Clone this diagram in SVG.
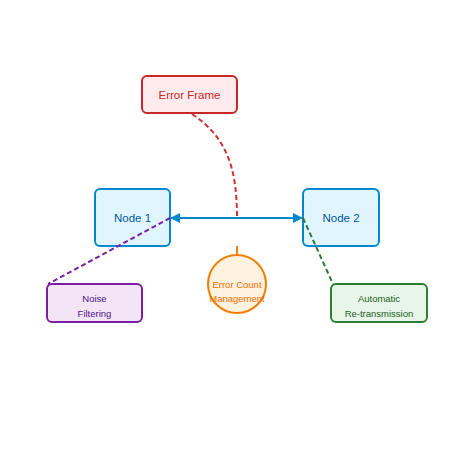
<svg xmlns="http://www.w3.org/2000/svg" width="474" height="474" viewBox="0 0 474 474">
<style>
text{font-family:"Liberation Sans",Arial,sans-serif;text-anchor:middle}
.box{stroke-width:2}
.dash{fill:none;stroke-width:2;stroke-dasharray:5,3}
.big{font-size:11.5px}
.sm{font-size:9.5px}
</style>
<defs>
<marker id="ah" viewBox="0 0 10 10" refX="9" refY="5" markerWidth="10" markerHeight="10" markerUnits="userSpaceOnUse" orient="auto-start-reverse">
<path d="M0,0L10,5L0,10z" fill="#0288d1"/>
</marker>
</defs>
<rect width="474" height="474" fill="#ffffff"/>
<g id="error-frame">
<rect class="box" x="142" y="76" width="95" height="37" rx="5" fill="#ffebee" stroke="#c62828"/>
<text class="big" x="189.5" y="99" fill="#c62828">Error Frame</text>
</g>
<g id="node1">
<rect class="box" x="95" y="189" width="75" height="57" rx="5" fill="#e1f5fe" stroke="#0288d1"/>
<text class="big" x="132.5" y="222" fill="#01579b">Node 1</text>
</g>
<g id="node2">
<rect class="box" x="303" y="189" width="76" height="57" rx="5" fill="#e1f5fe" stroke="#0288d1"/>
<text class="big" x="341" y="222" fill="#01579b">Node 2</text>
</g>
<g id="error-count">
<circle cx="237" cy="284" r="29" fill="#fff3e0" stroke="#f57c00" stroke-width="2"/>
<text class="sm" x="237" y="288" fill="#ef6c00">Error Count</text>
<text class="sm" x="237" y="302" fill="#ef6c00">Management</text>
</g>
<g id="noise-filtering">
<rect class="box" x="47" y="284" width="95" height="38" rx="5" fill="#f3e5f5" stroke="#7b1fa2"/>
<text class="sm" x="94.5" y="302" fill="#4a148c">Noise</text>
<text class="sm" x="94.5" y="317" fill="#4a148c">Filtering</text>
</g>
<g id="auto-retransmission">
<rect class="box" x="331" y="284" width="96" height="38" rx="5" fill="#e8f5e9" stroke="#2e7d32"/>
<text class="sm" x="379" y="302" fill="#1b5e20">Automatic</text>
<text class="sm" x="379" y="317" fill="#1b5e20">Re-transmission</text>
</g>
<g id="connectors">
<path class="dash" d="M192,114 C228,138 237,170 237,218" stroke="#d32f2f"/>
<line x1="171" y1="218" x2="302" y2="218" stroke="#0288d1" stroke-width="2" marker-start="url(#ah)" marker-end="url(#ah)"/>
<line class="dash" x1="170" y1="218" x2="48" y2="284" stroke="#7b1fa2"/>
<line class="dash" x1="303" y1="218" x2="333" y2="284" stroke="#2e7d32"/>
<line x1="237" y1="246" x2="237" y2="255" stroke="#f57c00" stroke-width="2"/>
</g>
</svg>
